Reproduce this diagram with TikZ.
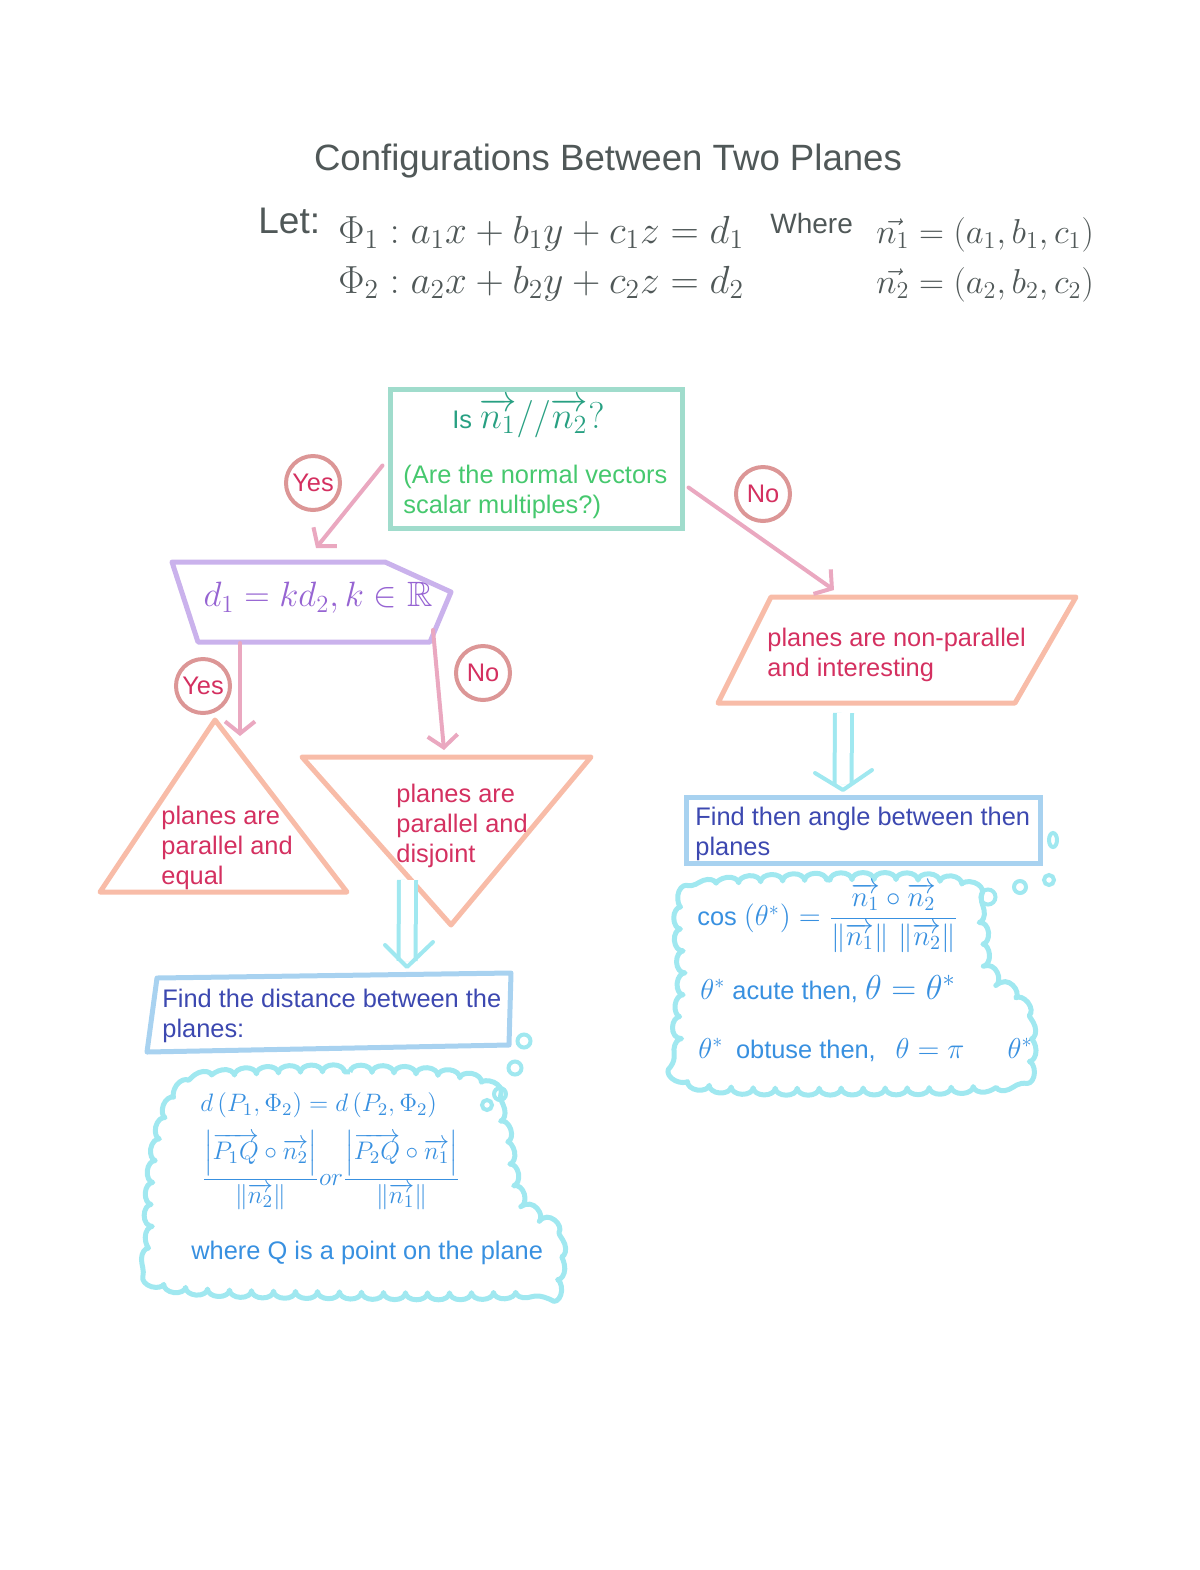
\RequirePackage{fix-cm}
\documentclass[tikz,border=0pt]{standalone}
\usepackage{amsmath}
\usepackage{amssymb}
\usepackage{fontspec}
\setsansfont{Liberation Sans}
\usetikzlibrary{arrows.meta,decorations.pathmorphing}
\definecolor{tit}{RGB}{80, 88, 88}
\definecolor{ring}{RGB}{220, 150, 150}
\definecolor{crim}{RGB}{212, 48, 96}
\definecolor{pnk}{RGB}{234, 168, 192}
\definecolor{teal}{RGB}{160, 220, 204}
\definecolor{tealtxt}{RGB}{40, 160, 130}
\definecolor{grn}{RGB}{70, 200, 110}
\definecolor{purp}{RGB}{202, 178, 236}
\definecolor{purptxt}{RGB}{150, 100, 210}
\definecolor{peach}{RGB}{248, 188, 168}
\definecolor{blu}{RGB}{168, 210, 240}
\definecolor{blutxt}{RGB}{60, 72, 176}
\definecolor{cyn}{RGB}{160, 232, 240}
\definecolor{cldtxt}{RGB}{56, 144, 224}

\begin{document}
\begin{tikzpicture}[x=0.5pt, y=-0.5pt,
    every node/.style={inner sep=0pt, font=\sffamily\fontsize{12.7}{15}\selectfont},
    ringnode/.style={circle, draw=ring, line width=2pt, minimum size=27pt, text=crim},
    pinkarr/.style={draw=pnk, line width=2pt, line cap=round, -{Straight Barb[length=6pt, width=15pt]}},
    dblline/.style={draw=cyn, line width=2pt, double=white, double distance=6.5pt},
    cynv/.style={draw=cyn, line width=2pt, line join=round, line cap=round},
    peachline/.style={draw=peach, line width=2.5pt, line join=round},
    bubble/.style={draw=cyn, line width=2pt},
    thought/.style={draw=cyn, line width=2.5pt, line join=round, decorate, decoration={bumps, segment length=22pt, amplitude=3.5pt}}]
  \useasboundingbox (0,0) rectangle (1200,1570);

  % heading
  \node[text=tit, font=\sffamily\fontsize{18.3}{22}\selectfont] (title) at (608,161) {Configurations Between Two Planes};
  \node[text=tit, anchor=base west, font=\sffamily\fontsize{18.5}{22}\selectfont] (let) at (258,233) {Let:};
  \node[text=tit, anchor=base west, font=\fontsize{19.6}{23}\selectfont] (phione) at (338,243) {$\Phi_1 : a_1x + b_1y + c_1z = d_1$};
  \node[text=tit, anchor=base west, font=\fontsize{19.6}{23}\selectfont] (phitwo) at (338,293) {$\Phi_2 : a_2x + b_2y + c_2z = d_2$};
  \node[text=tit, anchor=base west, font=\sffamily\fontsize{14}{17}\selectfont] (where) at (770,233) {Where};
  \node[text=tit, anchor=base west, font=\fontsize{17.3}{21}\selectfont] (nione) at (876,243) {$\vec{n_1} = (a_1, b_1, c_1)$};
  \node[text=tit, anchor=base west, font=\fontsize{17.3}{21}\selectfont] (nitwo) at (876,293) {$\vec{n_2} = (a_2, b_2, c_2)$};

  % first question
  \node[draw=teal, line width=2.5pt, minimum width=146pt, minimum height=69.5pt] (isbox) at (536,458.5) {};
  \node[text=tealtxt, anchor=base west] (isq) at (452,428) {Is \fontsize{18.7}{22}\selectfont$\overrightarrow{n_1}//\overrightarrow{n_2}?$};
  \node[text=grn, anchor=north west, align=left] (isnote) at (403,465) {(Are the normal vectors\\scalar multiples?)};

  % second question
  \draw[draw=purp, line width=2.5pt, line join=round] (172,562) -- (385,562) -- (451,592) -- (430,642) -- (198,642) -- cycle;
  \node[text=purptxt, font=\fontsize{17.6}{21}\selectfont] (dcond) at (318,598) {$d_1 = kd_2, k \in \mathbb{R}$};

  % results
  \draw[peachline] (215,720) -- (347,892) -- (100,892) -- cycle;
  \node[text=crim, anchor=north west, align=left] (equal) at (161,806) {planes are\\parallel and\\equal};
  \draw[peachline] (302,757) -- (591,757) -- (451,925) -- cycle;
  \node[text=crim, anchor=north west, align=left] (disj) at (396,784) {planes are\\parallel and\\disjoint};
  \draw[peachline] (771,597) -- (1076,597) -- (1015,703) -- (718,703) -- cycle;
  \node[text=crim, anchor=north west, align=left] (nonpar) at (767,628) {planes are non-parallel\\and interesting};

  % answers
  \node[ringnode] (yesa) at (313,483) {Yes};
  \node[ringnode] (noa) at (763,494) {No};
  \node[ringnode] (yesb) at (203,686) {Yes};
  \node[ringnode] (nob) at (483,673) {No};

  \coordinate (dcin) at (316,548);
  \coordinate (npin) at (834,590);
  \coordinate (dcyes) at (240,643);
  \coordinate (eqin) at (240,736);
  \coordinate (dcno) at (433,630);
  \coordinate (disjin) at (444,750);
  \draw[pinkarr] ([xshift=-2.5pt, yshift=-3.5pt]isbox.west) -- (dcin);
  \draw[pinkarr] ([xshift=2pt, yshift=-14.5pt]isbox.east) -- (npin);
  \draw[pinkarr] (dcyes) -- (eqin);
  \draw[pinkarr] (dcno) -- (disjin);

  % distance
  \draw[draw=blu, line width=2.5pt, line join=round] (157,978) -- (511,973) -- (509,1045) -- (147,1052) -- cycle;
  \node[text=blutxt, anchor=north west, align=left] (distbox) at (162,989) {Find the distance between the\\planes:};
  \coordinate (disjout) at (407.5,880);
  \coordinate (distin) at (407,967);
  \draw[dblline, shorten >=3pt] (disjout) -- (distin);
  \draw[cynv] (distin) ++(-22,-22) -- (distin) -- ++(26,-25);

  \draw[thought] plot[smooth cycle, tension=0.6] coordinates {(215,1078) (350,1072) (475,1082) (500,1120) (518,1195) (552,1230) (556,1270) (530,1290) (350,1292) (168,1284) (152,1245) (156,1160) (176,1098)};
  \draw[bubble] (524,1041) circle (6.5);
  \draw[bubble] (515,1068) circle (6.5);
  \draw[bubble] (500,1094) circle (6);
  \draw[bubble] (487,1105) circle (5);
  \node[text=cldtxt, anchor=west, font=\fontsize{12.6}{15}\selectfont] (distone) at (200,1105) {$d\left(P_1,\Phi_2\right) = d\left(P_2,\Phi_2\right)$};
  \node[text=cldtxt, font=\fontsize{12.7}{15}\selectfont] (disttwo) at (331,1170) {$\dfrac{\left|\overrightarrow{P_1Q}\circ\overrightarrow{n_2}\right|}{\left\|\overrightarrow{n_2}\right\|}or\dfrac{\left|\overrightarrow{P_2Q}\circ\overrightarrow{n_1}\right|}{\left\|\overrightarrow{n_1}\right\|}$};
  \node[text=cldtxt, anchor=west] (distq) at (191,1253) {where Q is a point on the plane};

  % angle
  \node[draw=blu, line width=2.5pt, minimum width=177pt, minimum height=33pt] (anglebox) at (863,830) {};
  \node[text=blutxt, anchor=north west, align=left] (angtxt) at (695,807) {Find then angle between then\\planes};
  \coordinate (npout) at (843.5,713);
  \coordinate (angin) at (843,790);
  \draw[dblline, shorten >=3pt] (npout) -- (angin);
  \draw[cynv] (angin) ++(-28,-17) -- (angin) -- ++(29,-20);

  \draw[thought] plot[smooth cycle, tension=0.6] coordinates {(705,888) (830,880) (955,884) (978,912) (986,965) (1020,1005) (1028,1050) (1005,1082) (850,1088) (700,1083) (680,1050) (684,980) (682,915)};
  \draw[bubble] (1053,840) ellipse (4 and 7);
  \draw[bubble] (1049,880) circle (5);
  \draw[bubble] (1020,887) circle (6);
  \draw[bubble] (988,897) circle (7.5);
  \node[text=cldtxt, anchor=west] (angone) at (697,918) {cos \fontsize{14.4}{17}\selectfont$\left(\theta^*\right) = \dfrac{\overrightarrow{n_1}\circ\overrightarrow{n_2}}{\left\|\overrightarrow{n_1}\right\|\,\left\|\overrightarrow{n_2}\right\|}$};
  \node[text=cldtxt, anchor=west] (angtwo) at (700,989) {{\fontsize{14.4}{17}\selectfont$\theta^*$} acute then, {\fontsize{17.3}{20}\selectfont$\theta = \theta^*$}};
  \node[text=cldtxt, anchor=west] (angthree) at (698,1050) {{\fontsize{14.4}{17}\selectfont$\theta^*$}\enspace obtuse then, \enspace{\fontsize{14.4}{17}\selectfont$\theta = \pi \quad\enspace \theta^*$}};
\end{tikzpicture}
\end{document}
